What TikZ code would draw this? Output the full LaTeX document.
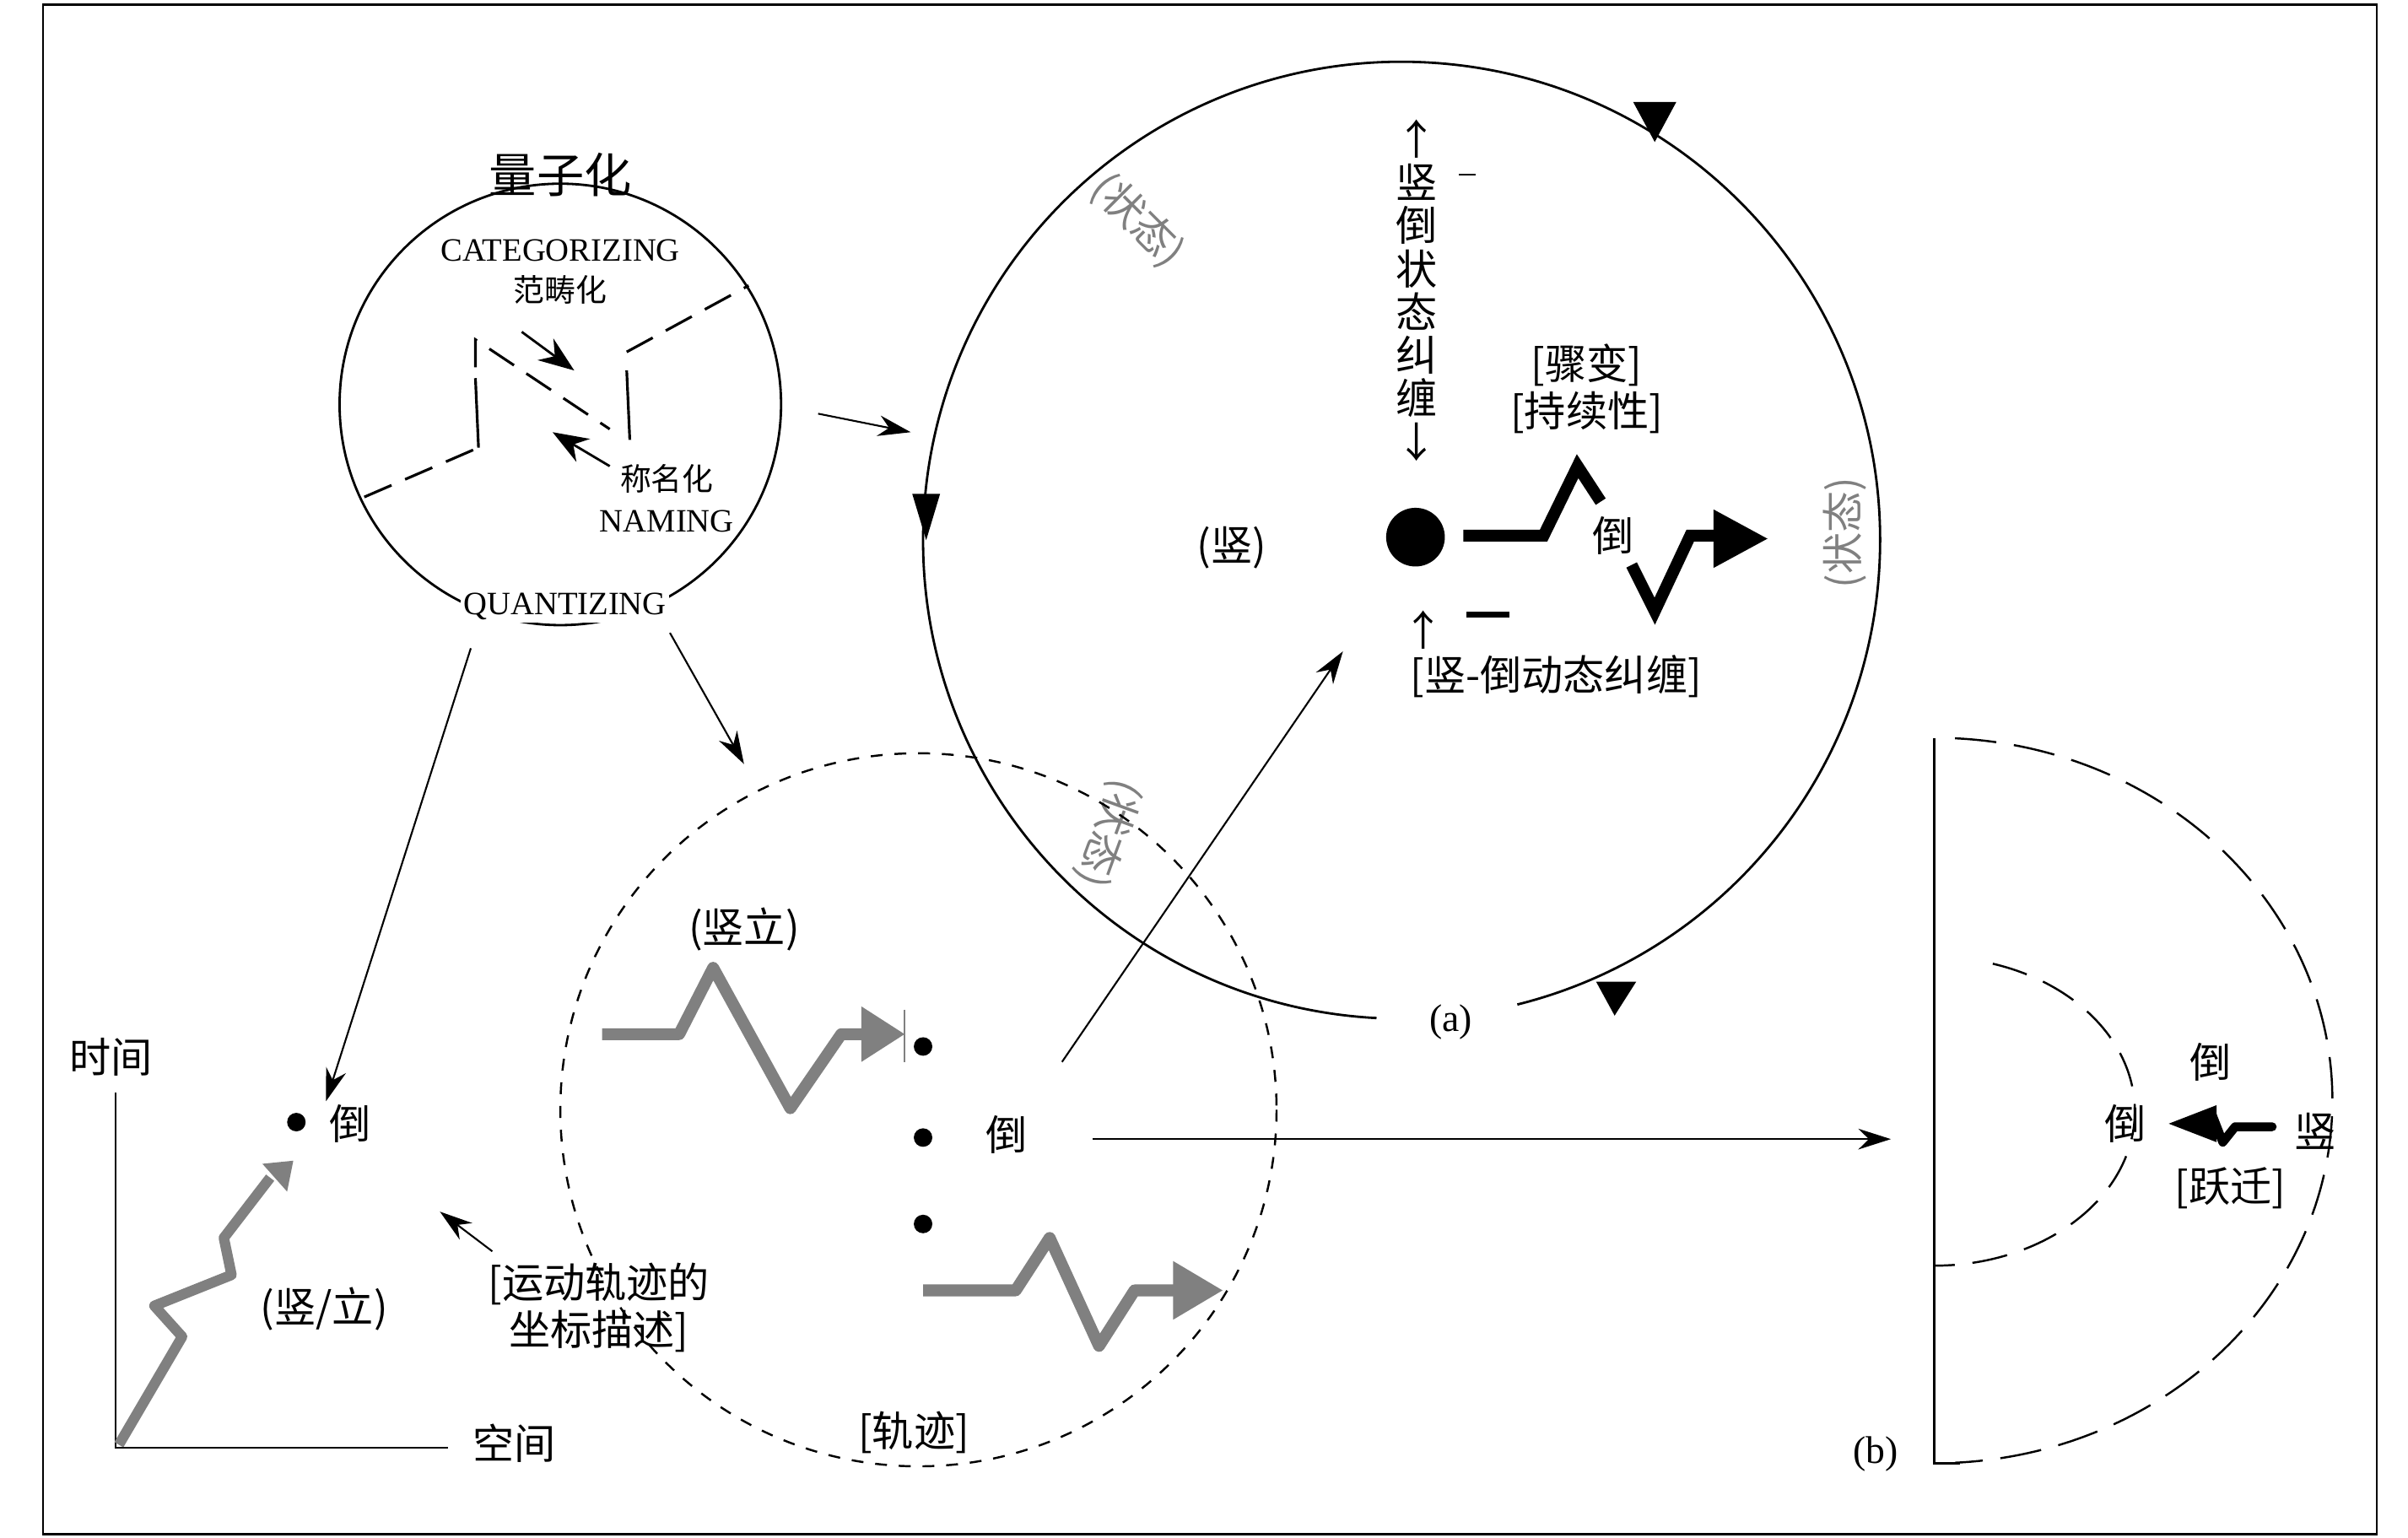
\documentclass[tikz,border=0pt]{standalone}
\usepackage{fontspec}
\setmainfont{Liberation Serif}
\newfontfamily\cjk{Noto Sans CJK SC}
\usetikzlibrary{arrows.meta,positioning}
\tikzset{
  lbl/.style={font=\cjk\fontsize{14}{16}\selectfont, inner sep=1pt},
  small/.style={font=\cjk\fontsize{10.5}{12}\selectfont, inner sep=1pt},
  latin/.style={font=\fontsize{11}{13}\selectfont, inner sep=1pt},
  grey/.style={font=\cjk\fontsize{14}{16}\selectfont, text=black!50, inner sep=1pt},
  link/.style={-{Stealth[length=11pt,width=7pt]}, line width=0.6pt},
  trace/.style={line width=4pt, color=black!50, line join=round},
  jump/.style={line width=4pt, line join=miter},
  seg/.style={line width=0.9pt, dash pattern=on 10pt off 5pt}
}
\begin{document}
\begin{tikzpicture}[x=0.183mm, y=-0.183mm]
  \useasboundingbox (0,0) rectangle (1560,996);
  \draw [line width=0.6pt] (28,3) rectangle (1540,994);

  % quantizing circle
  \draw [line width=0.8pt] (363,262) circle (143);
  \node [lbl, font=\cjk\fontsize{16}{18}\selectfont] (q) at (363,113) {量子化};
  \node [latin] (cat) at (363,162) {CATEGORIZING};
  \node [small] at (363,188) {范畴化};
  \node [small] at (432,310) {称名化};
  \node [latin] at (432,338) {NAMING};
  \node [latin, fill=white] (quant) at (366,393) {QUANTIZING};
  \draw [seg] (236,322) -- (310,290);
  \draw [line width=0.9pt] (310,290) -- (308,245);
  \draw [seg] (308,238) -- (308,220) -- (395,278);
  \draw [line width=0.9pt] (408,285) -- (406,240);
  \draw [seg] (406,228) -- (485,185);
  \draw [-{Stealth[length=12pt,width=9pt]}, line width=0.8pt] (338,215) -- (372,240);
  \draw [-{Stealth[length=12pt,width=9pt]}, line width=0.8pt] (395,302) -- (358,280);

  % state circle (a)
  \draw [line width=0.8pt] (908,350) ++(93:310) arc (93:436:310);
  \fill (591,320) -- (609,320) -- (600,350) -- cycle;
  \fill (1058,66) -- (1086,66) -- (1072,92) -- cycle;
  \fill (1034,636) -- (1060,636) -- (1046,658) -- cycle;
  \node [latin, font=\fontsize{13}{15}\selectfont] (a) at (940,662) {(a)};
  \node [grey, rotate=-45] at (737,143) {(状态)};
  \node [grey, rotate=90] at (1195,345) {(状态)};
  \node [grey, rotate=-110] at (718,540) {(状态)};
  \node [lbl] at (798,355) {(竖)};
  \node [lbl, align=center, font=\cjk\fontsize{14}{14.6}\selectfont] (ent) at (918,188) {↑\\竖\\倒\\状\\态\\纠\\缠\\↓};
  \draw [line width=0.6pt] (945,113) -- (956,113);
  \fill (917,348) circle (19);
  \node [lbl, align=center] at (1028,252) {[骤变]\\{}[持续性]};
  \node [lbl] at (1045,347) {倒};
  \draw [jump] (948,347) -- (1000,347) -- (1022,302) -- (1037,325);
  \draw [jump] (1057,366) -- (1072,396) -- (1095,347) -- (1112,347);
  \fill (1110,330) -- (1145,349) -- (1110,368) -- cycle;
  \draw [line width=2pt] (950,398) -- (978,398);
  \node [lbl] at (922,408) {↑};
  \node [lbl] (dyn) at (1008,438) {[竖-倒动态纠缠]};

  % trajectory circle
  \draw [line width=0.7pt, dash pattern=on 4pt off 4pt] (595,719) ellipse (232 and 231);
  \node [lbl] at (482,602) {(竖立)};
  \draw [trace] (390,670) -- (440,670) -- (462,627) -- (512,718) -- (545,670) -- (562,670);
  \fill [black!50] (558,652) -- (586,670) -- (558,688) -- cycle;
  \draw [black!50, line width=0.6pt] (586,654) -- (586,688);
  \foreach \y in {678,737,793} \fill (598,\y) circle (6);
  \node [lbl] (dao) at (652,735) {倒};
  \draw [trace] (598,836) -- (658,836) -- (680,802) -- (712,872) -- (735,836) -- (762,836);
  \fill [black!50] (760,817) -- (792,836) -- (760,855) -- cycle;
  \node [lbl, align=center] (desc) at (388,847) {[运动轨迹的\\坐标描述]};
  \node [lbl] at (592,928) {[轨迹]};

  % space-time axes
  \draw [line width=0.6pt] (75,708) -- (75,938) -- (290,938);
  \node [lbl] at (72,685) {时间};
  \node [lbl] at (333,935) {空间};
  \draw [trace, line width=3.5pt] (77,936) -- (118,866) -- (100,846) -- (150,826) -- (145,802) -- (175,763);
  \fill [black!50] (170,754) -- (190,752) -- (186,772) -- cycle;
  \node [lbl] at (210,848) {(竖/立)};
  \fill (192,727) circle (6);
  \node [lbl] (pt) at (227,728) {倒};

  % transition (b)
  \draw [line width=0.8pt] (1270,948) -- (1253,948) -- (1253,478);
  \draw [line width=0.7pt, dash pattern=on 14pt off 6pt] (1253,713) ++(-87:258 and 235) arc (-87:87:258 and 235);
  \draw [line width=0.7pt, dash pattern=on 12pt off 6pt] (1253,720) ++(-73:130 and 100) arc (-73:90:130 and 100);
  \node [lbl] at (1432,688) {倒};
  \node [lbl] at (1377,728) {倒};
  \node [lbl] at (1500,733) {竖};
  \node [lbl] at (1445,770) {[跃迁]};
  \node [latin, font=\fontsize{13}{15}\selectfont] at (1215,942) {(b)};
  \draw [line width=3pt, line cap=round, line join=round] (1472,730) -- (1448,730) -- (1440,740) -- (1433,722) -- (1428,732);
  \fill (1405,728) -- (1436,716) -- (1436,740) -- cycle;

  % connectors
  \coordinate (qa) at (530,268);
  \coordinate (qb) at (590,280);
  \draw [link] (qa) -- (qb);
  \coordinate (tr) at (482,495);
  \draw [link] (quant.south east) ++(0,6) -- (tr);
  \draw [link] (305,420) -- (pt.north west);
  \coordinate (dynin) at (870,422);
  \draw [link] (688,688) -- (dynin);
  \coordinate (bin) at (1225,738);
  \draw [link] (dao.east) ++(40,3) -- (bin);
  \coordinate (descout) at (285,785);
  \draw [link] (desc.north west) ++(5,-5) -- (descout);
\end{tikzpicture}
\end{document}
